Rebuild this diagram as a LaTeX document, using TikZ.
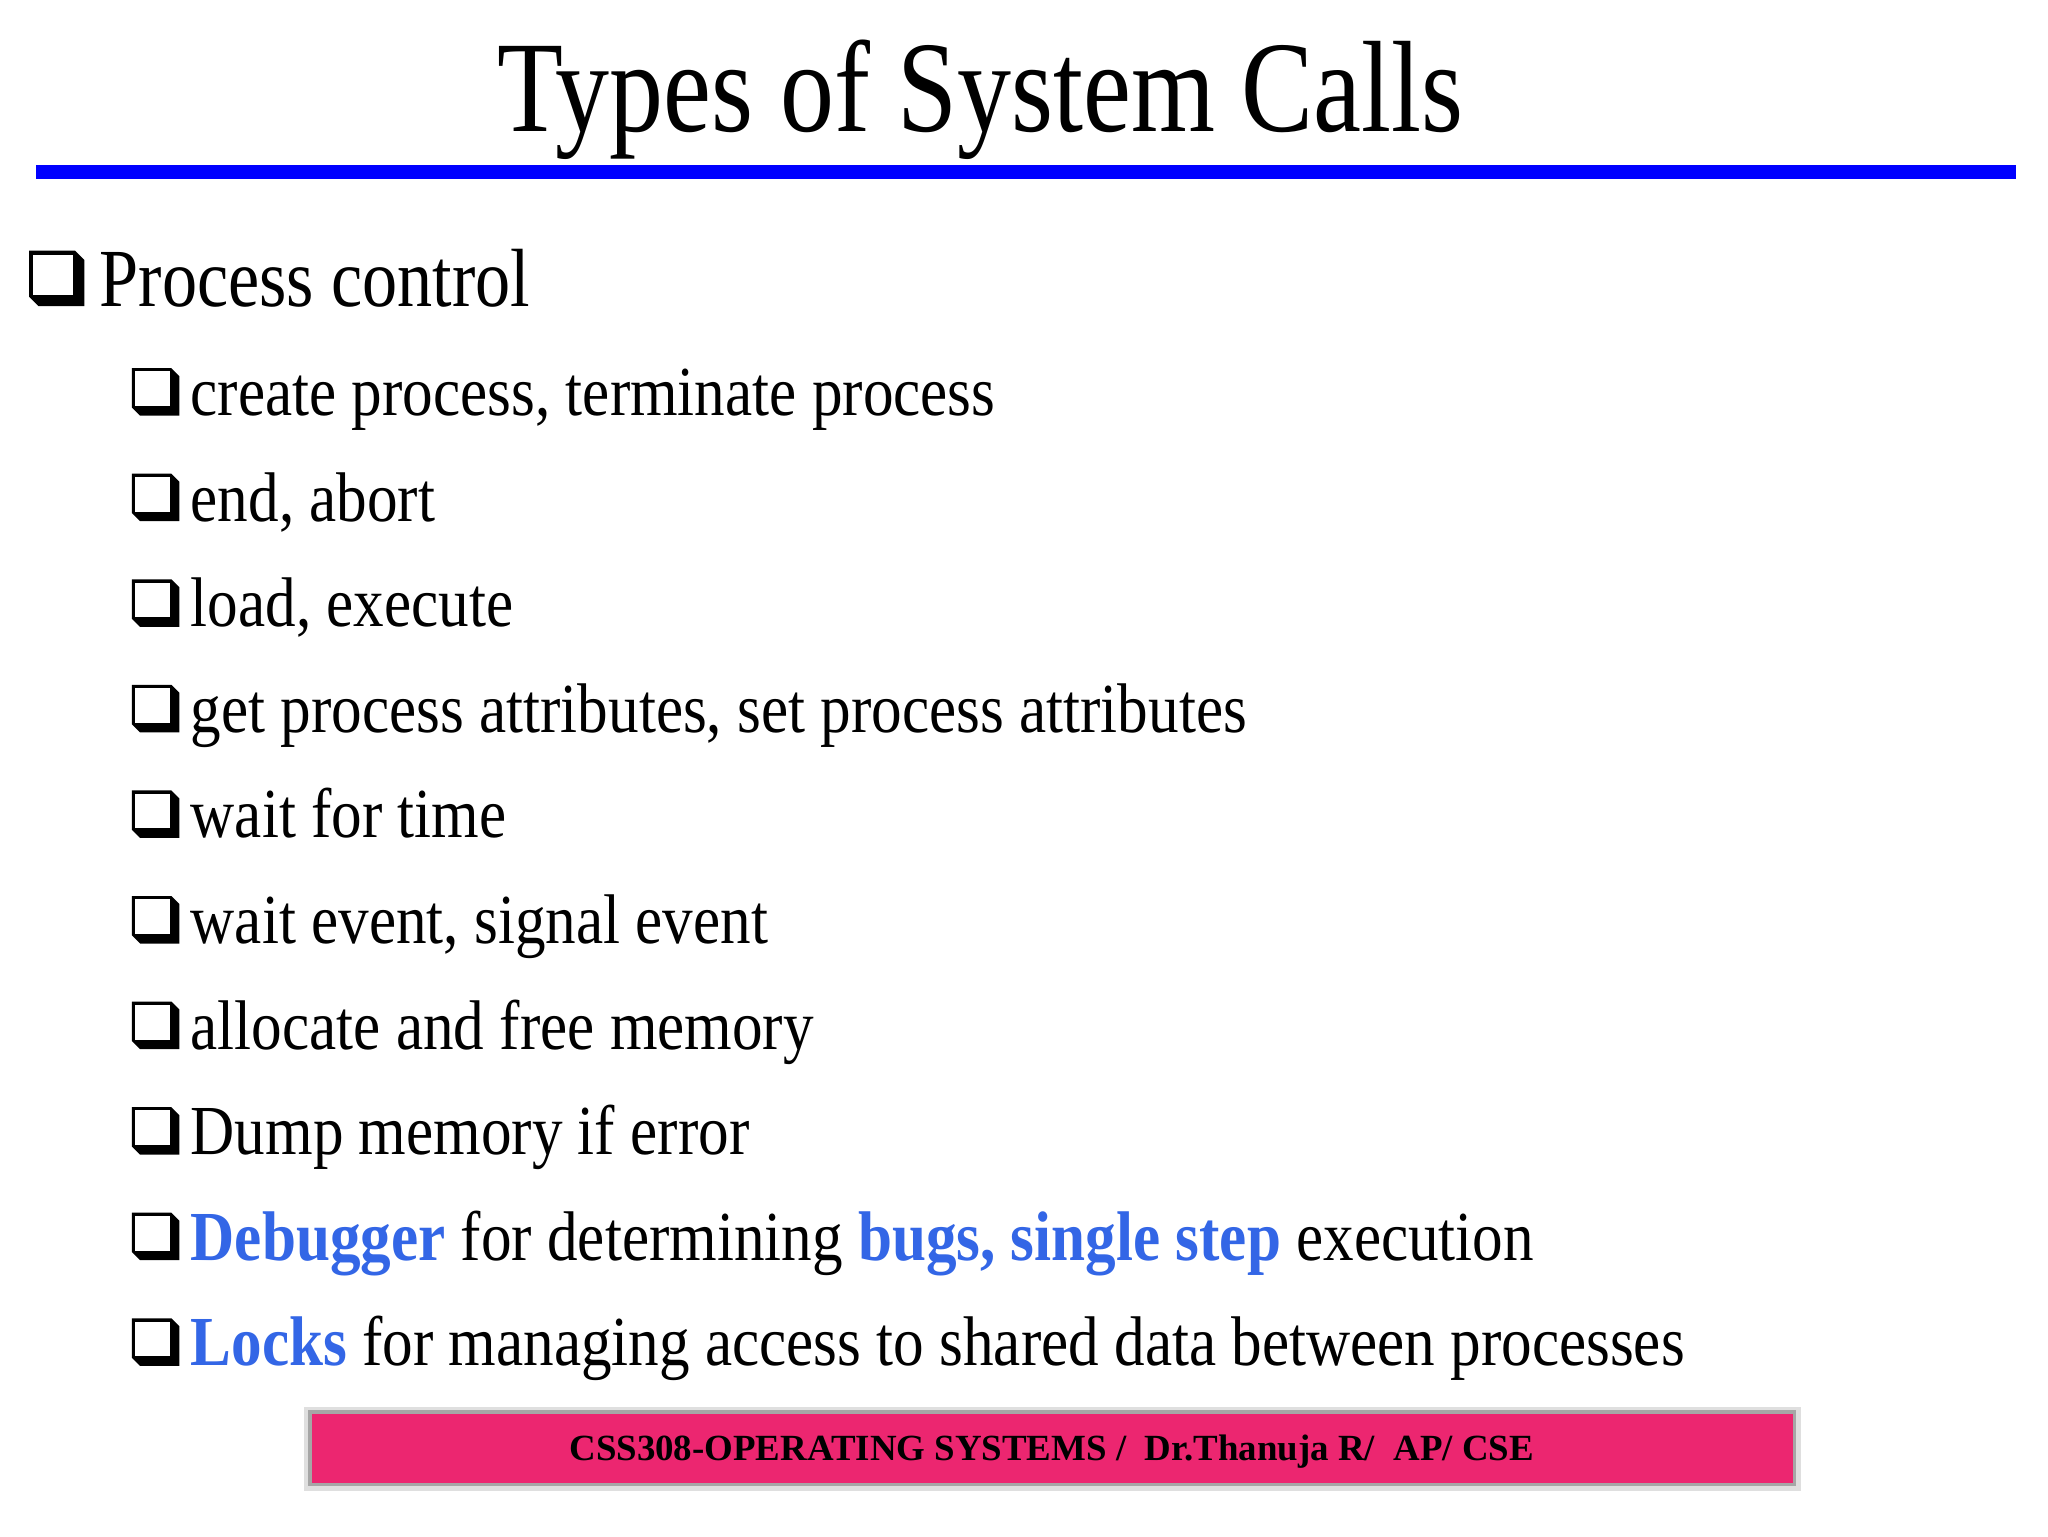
\documentclass[tikz,border=0pt]{standalone}
\usepackage{fontspec}
\setmainfont{Liberation Serif}
\newfontfamily\titlefont[FakeStretch=0.83]{Liberation Serif}
\newfontfamily\headfont[FakeStretch=0.85]{Liberation Serif}
\newfontfamily\itemfont[FakeStretch=0.87]{Liberation Serif}
\definecolor{hl}{RGB}{51,102,230}
\definecolor{footpink}{RGB}{236,38,112}
\tikzset{
  itemtxt/.style={anchor=base west,inner sep=0pt,font=\itemfont\fontsize{20}{24}\selectfont},
}
\newcommand{\qbul}[3]{% x, baseline y, size
  \fill[black] (#1,#2-#3) -- (#1+#3*0.83,#2-#3) -- (#1+#3,#2-#3*0.83) -- (#1+#3,#2) -- (#1+#3*0.17,#2) -- (#1,#2-#3*0.17) -- cycle;
  \fill[white] (#1+#3*0.07,#2-#3*0.93) rectangle (#1+#3*0.8,#2-#3*0.2);
}
\begin{document}
\begin{tikzpicture}[x=0.013196cm,y=-0.013196cm]
\useasboundingbox[fill=white] (0,0) rectangle (1552,1164);
\node[anchor=base,inner sep=0pt,font=\titlefont\fontsize{37}{40}\selectfont] (title) at (743,100) {Types of System Calls};
\fill[blue] (27,125) rectangle (1528,136);
\qbul{22}{232}{42}
\node[anchor=base west,inner sep=0pt,font=\headfont\fontsize{23.5}{28}\selectfont] (pc) at (75,232) {Process control};
\foreach \y/\t [count=\i] in {315/{create process, terminate process},395/{end, abort},475/{load, execute},555/{get process attributes, set process attributes},635/{wait for time},715/{wait event, signal event},795/{allocate and free memory},875/{Dump memory if error}}{
  \qbul{100}{\y}{36}
  \node[itemtxt] (it\i) at (144,\y) {\t};
}
\qbul{100}{955}{36}
\node[itemtxt] (it9) at (144,955) {\textcolor{hl}{\bfseries Debugger} for determining \textcolor{hl}{\bfseries bugs, single step} execution};
\qbul{100}{1035}{36}
\node[itemtxt] (it10) at (144,1035) {\textcolor{hl}{\bfseries Locks} for managing access to shared data between processes};
\fill[gray!25] (230,1066) rectangle (1365,1130);
\fill[footpink] (235,1070) rectangle (1360,1125);
\draw[gray!70,line width=1pt] (235,1070) rectangle (1360,1125);
\node[inner sep=0pt,font=\bfseries\fontsize{10.5}{12}\selectfont] (foot) at (797,1100) {CSS308-OPERATING SYSTEMS /\ \ Dr.Thanuja R/\ \ AP/ CSE};
\end{tikzpicture}
\end{document}
